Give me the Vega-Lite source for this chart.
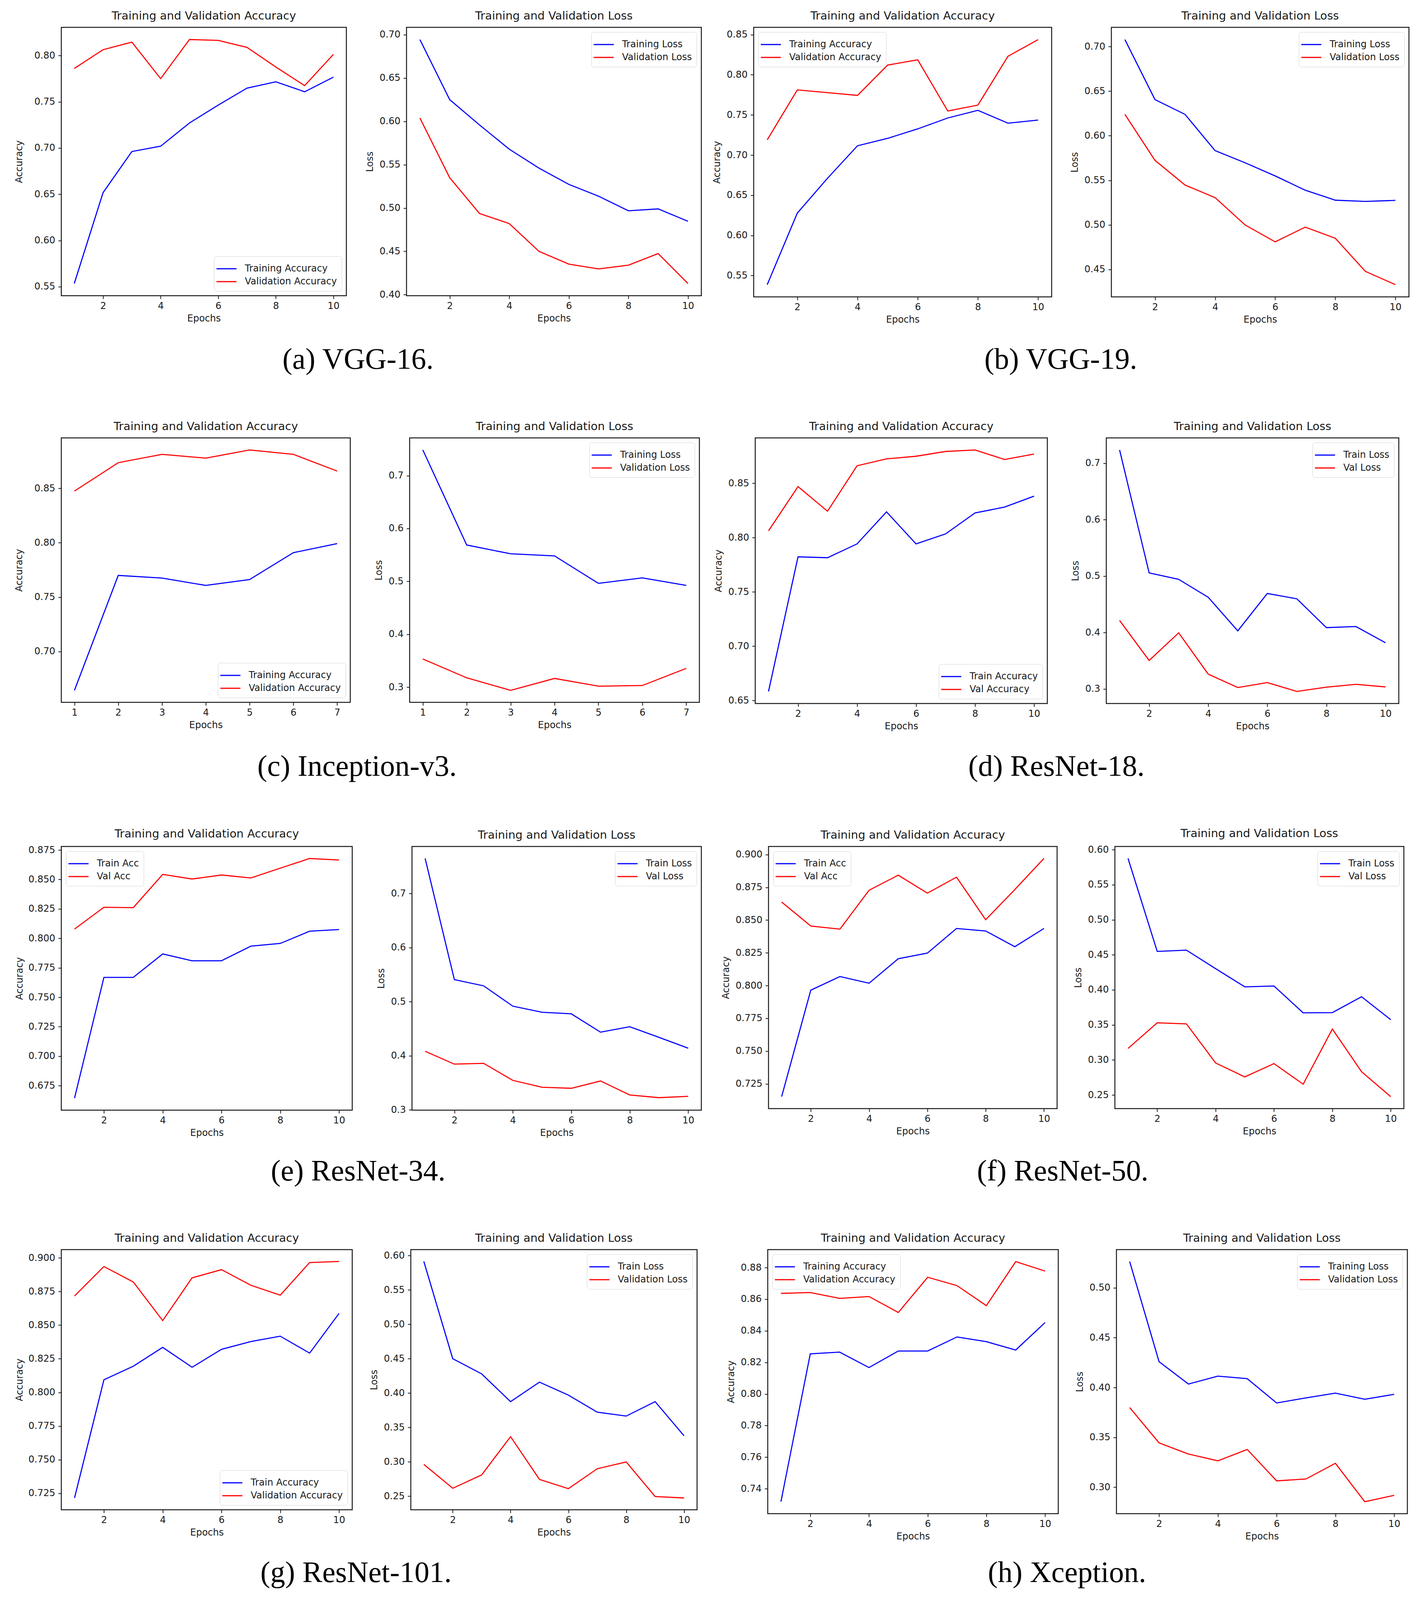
{
"$schema": "https://vega.github.io/schema/vega-lite/v6.json",
"padding": {"left": 36, "top": 25, "right": 0, "bottom": 0},
"background": "white",
"data": {"values": [
{"panel":"a_acc","series":"train","epoch":1,"value":0.5534},{"panel":"a_acc","series":"train","epoch":2,"value":0.6517},{"panel":"a_acc","series":"train","epoch":3,"value":0.6962},{"panel":"a_acc","series":"train","epoch":4,"value":0.7020},{"panel":"a_acc","series":"train","epoch":5,"value":0.7271},{"panel":"a_acc","series":"train","epoch":6,"value":0.7465},{"panel":"a_acc","series":"train","epoch":7,"value":0.7648},{"panel":"a_acc","series":"train","epoch":8,"value":0.7717},{"panel":"a_acc","series":"train","epoch":9,"value":0.7609},{"panel":"a_acc","series":"train","epoch":10,"value":0.7767},
{"panel":"a_acc","series":"val","epoch":1,"value":0.7861},{"panel":"a_acc","series":"val","epoch":2,"value":0.8064},{"panel":"a_acc","series":"val","epoch":3,"value":0.8146},{"panel":"a_acc","series":"val","epoch":4,"value":0.7751},{"panel":"a_acc","series":"val","epoch":5,"value":0.8174},{"panel":"a_acc","series":"val","epoch":6,"value":0.8165},{"panel":"a_acc","series":"val","epoch":7,"value":0.8089},{"panel":"a_acc","series":"val","epoch":8,"value":0.7877},{"panel":"a_acc","series":"val","epoch":9,"value":0.7675},{"panel":"a_acc","series":"val","epoch":10,"value":0.8014},
{"panel":"a_loss","series":"train","epoch":1,"value":0.6944},{"panel":"a_loss","series":"train","epoch":2,"value":0.6251},{"panel":"a_loss","series":"train","epoch":3,"value":0.5959},{"panel":"a_loss","series":"train","epoch":4,"value":0.5679},{"panel":"a_loss","series":"train","epoch":5,"value":0.5460},{"panel":"a_loss","series":"train","epoch":6,"value":0.5273},{"panel":"a_loss","series":"train","epoch":7,"value":0.5136},{"panel":"a_loss","series":"train","epoch":8,"value":0.4968},{"panel":"a_loss","series":"train","epoch":9,"value":0.4990},{"panel":"a_loss","series":"train","epoch":10,"value":0.4847},
{"panel":"a_loss","series":"val","epoch":1,"value":0.6039},{"panel":"a_loss","series":"val","epoch":2,"value":0.5350},{"panel":"a_loss","series":"val","epoch":3,"value":0.4937},{"panel":"a_loss","series":"val","epoch":4,"value":0.4820},{"panel":"a_loss","series":"val","epoch":5,"value":0.4499},{"panel":"a_loss","series":"val","epoch":6,"value":0.4353},{"panel":"a_loss","series":"val","epoch":7,"value":0.4297},{"panel":"a_loss","series":"val","epoch":8,"value":0.4340},{"panel":"a_loss","series":"val","epoch":9,"value":0.4474},{"panel":"a_loss","series":"val","epoch":10,"value":0.4129},
{"panel":"b_acc","series":"train","epoch":1,"value":0.5387},{"panel":"b_acc","series":"train","epoch":2,"value":0.6278},{"panel":"b_acc","series":"train","epoch":3,"value":0.6710},{"panel":"b_acc","series":"train","epoch":4,"value":0.7116},{"panel":"b_acc","series":"train","epoch":5,"value":0.7208},{"panel":"b_acc","series":"train","epoch":6,"value":0.7326},{"panel":"b_acc","series":"train","epoch":7,"value":0.7462},{"panel":"b_acc","series":"train","epoch":8,"value":0.7557},{"panel":"b_acc","series":"train","epoch":9,"value":0.7397},{"panel":"b_acc","series":"train","epoch":10,"value":0.7436},
{"panel":"b_acc","series":"val","epoch":1,"value":0.7190},{"panel":"b_acc","series":"val","epoch":2,"value":0.7811},{"panel":"b_acc","series":"val","epoch":3,"value":0.7777},{"panel":"b_acc","series":"val","epoch":4,"value":0.7743},{"panel":"b_acc","series":"val","epoch":5,"value":0.8120},{"panel":"b_acc","series":"val","epoch":6,"value":0.8186},{"panel":"b_acc","series":"val","epoch":7,"value":0.7549},{"panel":"b_acc","series":"val","epoch":8,"value":0.7622},{"panel":"b_acc","series":"val","epoch":9,"value":0.8230},{"panel":"b_acc","series":"val","epoch":10,"value":0.8437},
{"panel":"b_loss","series":"train","epoch":1,"value":0.7078},{"panel":"b_loss","series":"train","epoch":2,"value":0.6405},{"panel":"b_loss","series":"train","epoch":3,"value":0.6239},{"panel":"b_loss","series":"train","epoch":4,"value":0.5833},{"panel":"b_loss","series":"train","epoch":5,"value":0.5696},{"panel":"b_loss","series":"train","epoch":6,"value":0.5549},{"panel":"b_loss","series":"train","epoch":7,"value":0.5389},{"panel":"b_loss","series":"train","epoch":8,"value":0.5277},{"panel":"b_loss","series":"train","epoch":9,"value":0.5263},{"panel":"b_loss","series":"train","epoch":10,"value":0.5275},
{"panel":"b_loss","series":"val","epoch":1,"value":0.6239},{"panel":"b_loss","series":"val","epoch":2,"value":0.5724},{"panel":"b_loss","series":"val","epoch":3,"value":0.5447},{"panel":"b_loss","series":"val","epoch":4,"value":0.5306},{"panel":"b_loss","series":"val","epoch":5,"value":0.4999},{"panel":"b_loss","series":"val","epoch":6,"value":0.4810},{"panel":"b_loss","series":"val","epoch":7,"value":0.4975},{"panel":"b_loss","series":"val","epoch":8,"value":0.4850},{"panel":"b_loss","series":"val","epoch":9,"value":0.4479},{"panel":"b_loss","series":"val","epoch":10,"value":0.4330},
{"panel":"c_acc","series":"train","epoch":1,"value":0.6643},{"panel":"c_acc","series":"train","epoch":2,"value":0.7700},{"panel":"c_acc","series":"train","epoch":3,"value":0.7675},{"panel":"c_acc","series":"train","epoch":4,"value":0.7608},{"panel":"c_acc","series":"train","epoch":5,"value":0.7662},{"panel":"c_acc","series":"train","epoch":6,"value":0.7909},{"panel":"c_acc","series":"train","epoch":7,"value":0.7992},
{"panel":"c_acc","series":"val","epoch":1,"value":0.8475},{"panel":"c_acc","series":"val","epoch":2,"value":0.8736},{"panel":"c_acc","series":"val","epoch":3,"value":0.8813},{"panel":"c_acc","series":"val","epoch":4,"value":0.8778},{"panel":"c_acc","series":"val","epoch":5,"value":0.8853},{"panel":"c_acc","series":"val","epoch":6,"value":0.8813},{"panel":"c_acc","series":"val","epoch":7,"value":0.8659},
{"panel":"c_loss","series":"train","epoch":1,"value":0.7486},{"panel":"c_loss","series":"train","epoch":2,"value":0.5688},{"panel":"c_loss","series":"train","epoch":3,"value":0.5522},{"panel":"c_loss","series":"train","epoch":4,"value":0.5482},{"panel":"c_loss","series":"train","epoch":5,"value":0.4964},{"panel":"c_loss","series":"train","epoch":6,"value":0.5067},{"panel":"c_loss","series":"train","epoch":7,"value":0.4925},
{"panel":"c_loss","series":"val","epoch":1,"value":0.3534},{"panel":"c_loss","series":"val","epoch":2,"value":0.3178},{"panel":"c_loss","series":"val","epoch":3,"value":0.2941},{"panel":"c_loss","series":"val","epoch":4,"value":0.3166},{"panel":"c_loss","series":"val","epoch":5,"value":0.3020},{"panel":"c_loss","series":"val","epoch":6,"value":0.3032},{"panel":"c_loss","series":"val","epoch":7,"value":0.3356},
{"panel":"d_acc","series":"train","epoch":1,"value":0.6584},{"panel":"d_acc","series":"train","epoch":2,"value":0.7823},{"panel":"d_acc","series":"train","epoch":3,"value":0.7815},{"panel":"d_acc","series":"train","epoch":4,"value":0.7942},{"panel":"d_acc","series":"train","epoch":5,"value":0.8237},{"panel":"d_acc","series":"train","epoch":6,"value":0.7942},{"panel":"d_acc","series":"train","epoch":7,"value":0.8034},{"panel":"d_acc","series":"train","epoch":8,"value":0.8227},{"panel":"d_acc","series":"train","epoch":9,"value":0.8281},{"panel":"d_acc","series":"train","epoch":10,"value":0.8382},
{"panel":"d_acc","series":"val","epoch":1,"value":0.8062},{"panel":"d_acc","series":"val","epoch":2,"value":0.8470},{"panel":"d_acc","series":"val","epoch":3,"value":0.8243},{"panel":"d_acc","series":"val","epoch":4,"value":0.8661},{"panel":"d_acc","series":"val","epoch":5,"value":0.8725},{"panel":"d_acc","series":"val","epoch":6,"value":0.8749},{"panel":"d_acc","series":"val","epoch":7,"value":0.8793},{"panel":"d_acc","series":"val","epoch":8,"value":0.8807},{"panel":"d_acc","series":"val","epoch":9,"value":0.8719},{"panel":"d_acc","series":"val","epoch":10,"value":0.8769},
{"panel":"d_loss","series":"train","epoch":1,"value":0.7234},{"panel":"d_loss","series":"train","epoch":2,"value":0.5057},{"panel":"d_loss","series":"train","epoch":3,"value":0.4943},{"panel":"d_loss","series":"train","epoch":4,"value":0.4625},{"panel":"d_loss","series":"train","epoch":5,"value":0.4031},{"panel":"d_loss","series":"train","epoch":6,"value":0.4693},{"panel":"d_loss","series":"train","epoch":7,"value":0.4598},{"panel":"d_loss","series":"train","epoch":8,"value":0.4088},{"panel":"d_loss","series":"train","epoch":9,"value":0.4107},{"panel":"d_loss","series":"train","epoch":10,"value":0.3820},
{"panel":"d_loss","series":"val","epoch":1,"value":0.4215},{"panel":"d_loss","series":"val","epoch":2,"value":0.3506},{"panel":"d_loss","series":"val","epoch":3,"value":0.3996},{"panel":"d_loss","series":"val","epoch":4,"value":0.3264},{"panel":"d_loss","series":"val","epoch":5,"value":0.3027},{"panel":"d_loss","series":"val","epoch":6,"value":0.3115},{"panel":"d_loss","series":"val","epoch":7,"value":0.2958},{"panel":"d_loss","series":"val","epoch":8,"value":0.3034},{"panel":"d_loss","series":"val","epoch":9,"value":0.3084},{"panel":"d_loss","series":"val","epoch":10,"value":0.3038},
{"panel":"e_acc","series":"train","epoch":1,"value":0.6644},{"panel":"e_acc","series":"train","epoch":2,"value":0.7669},{"panel":"e_acc","series":"train","epoch":3,"value":0.7669},{"panel":"e_acc","series":"train","epoch":4,"value":0.7868},{"panel":"e_acc","series":"train","epoch":5,"value":0.7810},{"panel":"e_acc","series":"train","epoch":6,"value":0.7810},{"panel":"e_acc","series":"train","epoch":7,"value":0.7934},{"panel":"e_acc","series":"train","epoch":8,"value":0.7957},{"panel":"e_acc","series":"train","epoch":9,"value":0.8061},{"panel":"e_acc","series":"train","epoch":10,"value":0.8075},
{"panel":"e_acc","series":"val","epoch":1,"value":0.8079},{"panel":"e_acc","series":"val","epoch":2,"value":0.8264},{"panel":"e_acc","series":"val","epoch":3,"value":0.8261},{"panel":"e_acc","series":"val","epoch":4,"value":0.8543},{"panel":"e_acc","series":"val","epoch":5,"value":0.8504},{"panel":"e_acc","series":"val","epoch":6,"value":0.8538},{"panel":"e_acc","series":"val","epoch":7,"value":0.8513},{"panel":"e_acc","series":"val","epoch":8,"value":0.8596},{"panel":"e_acc","series":"val","epoch":9,"value":0.8678},{"panel":"e_acc","series":"val","epoch":10,"value":0.8665},
{"panel":"e_loss","series":"train","epoch":1,"value":0.7645},{"panel":"e_loss","series":"train","epoch":2,"value":0.5407},{"panel":"e_loss","series":"train","epoch":3,"value":0.5292},{"panel":"e_loss","series":"train","epoch":4,"value":0.4916},{"panel":"e_loss","series":"train","epoch":5,"value":0.4804},{"panel":"e_loss","series":"train","epoch":6,"value":0.4774},{"panel":"e_loss","series":"train","epoch":7,"value":0.4436},{"panel":"e_loss","series":"train","epoch":8,"value":0.4536},{"panel":"e_loss","series":"train","epoch":9,"value":0.4340},{"panel":"e_loss","series":"train","epoch":10,"value":0.4140},
{"panel":"e_loss","series":"val","epoch":1,"value":0.4083},{"panel":"e_loss","series":"val","epoch":2,"value":0.3845},{"panel":"e_loss","series":"val","epoch":3,"value":0.3860},{"panel":"e_loss","series":"val","epoch":4,"value":0.3545},{"panel":"e_loss","series":"val","epoch":5,"value":0.3418},{"panel":"e_loss","series":"val","epoch":6,"value":0.3399},{"panel":"e_loss","series":"val","epoch":7,"value":0.3534},{"panel":"e_loss","series":"val","epoch":8,"value":0.3276},{"panel":"e_loss","series":"val","epoch":9,"value":0.3226},{"panel":"e_loss","series":"val","epoch":10,"value":0.3250},
{"panel":"f_acc","series":"train","epoch":1,"value":0.7152},{"panel":"f_acc","series":"train","epoch":2,"value":0.7965},{"panel":"f_acc","series":"train","epoch":3,"value":0.8069},{"panel":"f_acc","series":"train","epoch":4,"value":0.8018},{"panel":"f_acc","series":"train","epoch":5,"value":0.8205},{"panel":"f_acc","series":"train","epoch":6,"value":0.8248},{"panel":"f_acc","series":"train","epoch":7,"value":0.8436},{"panel":"f_acc","series":"train","epoch":8,"value":0.8417},{"panel":"f_acc","series":"train","epoch":9,"value":0.8297},{"panel":"f_acc","series":"train","epoch":10,"value":0.8436},
{"panel":"f_acc","series":"val","epoch":1,"value":0.8638},{"panel":"f_acc","series":"val","epoch":2,"value":0.8455},{"panel":"f_acc","series":"val","epoch":3,"value":0.8431},{"panel":"f_acc","series":"val","epoch":4,"value":0.8728},{"panel":"f_acc","series":"val","epoch":5,"value":0.8843},{"panel":"f_acc","series":"val","epoch":6,"value":0.8706},{"panel":"f_acc","series":"val","epoch":7,"value":0.8828},{"panel":"f_acc","series":"val","epoch":8,"value":0.8503},{"panel":"f_acc","series":"val","epoch":9,"value":0.8733},{"panel":"f_acc","series":"val","epoch":10,"value":0.8971},
{"panel":"f_loss","series":"train","epoch":1,"value":0.5875},{"panel":"f_loss","series":"train","epoch":2,"value":0.4548},{"panel":"f_loss","series":"train","epoch":3,"value":0.4566},{"panel":"f_loss","series":"train","epoch":4,"value":0.4302},{"panel":"f_loss","series":"train","epoch":5,"value":0.4043},{"panel":"f_loss","series":"train","epoch":6,"value":0.4055},{"panel":"f_loss","series":"train","epoch":7,"value":0.3672},{"panel":"f_loss","series":"train","epoch":8,"value":0.3675},{"panel":"f_loss","series":"train","epoch":9,"value":0.3901},{"panel":"f_loss","series":"train","epoch":10,"value":0.3574},
{"panel":"f_loss","series":"val","epoch":1,"value":0.3164},{"panel":"f_loss","series":"val","epoch":2,"value":0.3530},{"panel":"f_loss","series":"val","epoch":3,"value":0.3515},{"panel":"f_loss","series":"val","epoch":4,"value":0.2957},{"panel":"f_loss","series":"val","epoch":5,"value":0.2758},{"panel":"f_loss","series":"val","epoch":6,"value":0.2948},{"panel":"f_loss","series":"val","epoch":7,"value":0.2654},{"panel":"f_loss","series":"val","epoch":8,"value":0.3441},{"panel":"f_loss","series":"val","epoch":9,"value":0.2832},{"panel":"f_loss","series":"val","epoch":10,"value":0.2476},
{"panel":"g_acc","series":"train","epoch":1,"value":0.7215},{"panel":"g_acc","series":"train","epoch":2,"value":0.8094},{"panel":"g_acc","series":"train","epoch":3,"value":0.8195},{"panel":"g_acc","series":"train","epoch":4,"value":0.8335},{"panel":"g_acc","series":"train","epoch":5,"value":0.8187},{"panel":"g_acc","series":"train","epoch":6,"value":0.8320},{"panel":"g_acc","series":"train","epoch":7,"value":0.8378},{"panel":"g_acc","series":"train","epoch":8,"value":0.8418},{"panel":"g_acc","series":"train","epoch":9,"value":0.8292},{"panel":"g_acc","series":"train","epoch":10,"value":0.8587},
{"panel":"g_acc","series":"val","epoch":1,"value":0.8717},{"panel":"g_acc","series":"val","epoch":2,"value":0.8936},{"panel":"g_acc","series":"val","epoch":3,"value":0.8821},{"panel":"g_acc","series":"val","epoch":4,"value":0.8534},{"panel":"g_acc","series":"val","epoch":5,"value":0.8852},{"panel":"g_acc","series":"val","epoch":6,"value":0.8913},{"panel":"g_acc","series":"val","epoch":7,"value":0.8797},{"panel":"g_acc","series":"val","epoch":8,"value":0.8723},{"panel":"g_acc","series":"val","epoch":9,"value":0.8966},{"panel":"g_acc","series":"val","epoch":10,"value":0.8974},
{"panel":"g_loss","series":"train","epoch":1,"value":0.5916},{"panel":"g_loss","series":"train","epoch":2,"value":0.4501},{"panel":"g_loss","series":"train","epoch":3,"value":0.4280},{"panel":"g_loss","series":"train","epoch":4,"value":0.3876},{"panel":"g_loss","series":"train","epoch":5,"value":0.4160},{"panel":"g_loss","series":"train","epoch":6,"value":0.3971},{"panel":"g_loss","series":"train","epoch":7,"value":0.3723},{"panel":"g_loss","series":"train","epoch":8,"value":0.3666},{"panel":"g_loss","series":"train","epoch":9,"value":0.3876},{"panel":"g_loss","series":"train","epoch":10,"value":0.3379},
{"panel":"g_loss","series":"val","epoch":1,"value":0.2963},{"panel":"g_loss","series":"val","epoch":2,"value":0.2616},{"panel":"g_loss","series":"val","epoch":3,"value":0.2810},{"panel":"g_loss","series":"val","epoch":4,"value":0.3367},{"panel":"g_loss","series":"val","epoch":5,"value":0.2745},{"panel":"g_loss","series":"val","epoch":6,"value":0.2610},{"panel":"g_loss","series":"val","epoch":7,"value":0.2900},{"panel":"g_loss","series":"val","epoch":8,"value":0.2999},{"panel":"g_loss","series":"val","epoch":9,"value":0.2496},{"panel":"g_loss","series":"val","epoch":10,"value":0.2475},
{"panel":"h_acc","series":"train","epoch":1,"value":0.7318},{"panel":"h_acc","series":"train","epoch":2,"value":0.8254},{"panel":"h_acc","series":"train","epoch":3,"value":0.8265},{"panel":"h_acc","series":"train","epoch":4,"value":0.8167},{"panel":"h_acc","series":"train","epoch":5,"value":0.8272},{"panel":"h_acc","series":"train","epoch":6,"value":0.8272},{"panel":"h_acc","series":"train","epoch":7,"value":0.8361},{"panel":"h_acc","series":"train","epoch":8,"value":0.8331},{"panel":"h_acc","series":"train","epoch":9,"value":0.8278},{"panel":"h_acc","series":"train","epoch":10,"value":0.8452},
{"panel":"h_acc","series":"val","epoch":1,"value":0.8637},{"panel":"h_acc","series":"val","epoch":2,"value":0.8642},{"panel":"h_acc","series":"val","epoch":3,"value":0.8605},{"panel":"h_acc","series":"val","epoch":4,"value":0.8617},{"panel":"h_acc","series":"val","epoch":5,"value":0.8516},{"panel":"h_acc","series":"val","epoch":6,"value":0.8739},{"panel":"h_acc","series":"val","epoch":7,"value":0.8686},{"panel":"h_acc","series":"val","epoch":8,"value":0.8559},{"panel":"h_acc","series":"val","epoch":9,"value":0.8838},{"panel":"h_acc","series":"val","epoch":10,"value":0.8778},
{"panel":"h_loss","series":"train","epoch":1,"value":0.5263},{"panel":"h_loss","series":"train","epoch":2,"value":0.4259},{"panel":"h_loss","series":"train","epoch":3,"value":0.4035},{"panel":"h_loss","series":"train","epoch":4,"value":0.4114},{"panel":"h_loss","series":"train","epoch":5,"value":0.4089},{"panel":"h_loss","series":"train","epoch":6,"value":0.3845},{"panel":"h_loss","series":"train","epoch":7,"value":0.3896},{"panel":"h_loss","series":"train","epoch":8,"value":0.3944},{"panel":"h_loss","series":"train","epoch":9,"value":0.3882},{"panel":"h_loss","series":"train","epoch":10,"value":0.3932},
{"panel":"h_loss","series":"val","epoch":1,"value":0.3799},{"panel":"h_loss","series":"val","epoch":2,"value":0.3445},{"panel":"h_loss","series":"val","epoch":3,"value":0.3333},{"panel":"h_loss","series":"val","epoch":4,"value":0.3265},{"panel":"h_loss","series":"val","epoch":5,"value":0.3379},{"panel":"h_loss","series":"val","epoch":6,"value":0.3064},{"panel":"h_loss","series":"val","epoch":7,"value":0.3083},{"panel":"h_loss","series":"val","epoch":8,"value":0.3240},{"panel":"h_loss","series":"val","epoch":9,"value":0.2855},{"panel":"h_loss","series":"val","epoch":10,"value":0.2919}
]},
"config": {
  "font": "DejaVu Sans",
  "view": {"stroke": "#1a1a1a", "strokeWidth": 2.5},
  "axis": {"domain": false, "grid": false, "tickColor": "#1a1a1a", "tickSize": 8, "tickWidth": 2, "labelFont": "DejaVu Sans", "labelFontSize": 24, "labelColor": "#1a1a1a", "titleFont": "DejaVu Sans", "titleFontSize": 24, "titleFontWeight": "normal", "titleColor": "#1a1a1a", "labelFlush": false, "labelOverlap": false},
  "axisX": {"labelPadding": 6, "titlePadding": 8},
  "axisY": {"labelPadding": 8, "titlePadding": 12},
  "title": {"font": "DejaVu Sans", "fontSize": 29, "fontWeight": "normal", "color": "#1a1a1a", "offset": 14, "frame": "group", "anchor": "middle"},
  "legend": {"labelFont": "DejaVu Sans", "labelFontSize": 24, "labelColor": "#1a1a1a", "symbolType": "M-1.4,0H1.4", "symbolStrokeWidth": 3.5, "symbolSize": 1350, "labelOffset": 27, "padding": 12, "rowPadding": 1, "fillColor": "white", "strokeColor": "#d3d3d3", "cornerRadius": 6, "offset": 12, "labelLimit": 600},
  "line": {"strokeWidth": 2.8}
},
"columns": 1,
"spacing": 116,
"resolve": {"scale": {"color": "independent"}, "legend": {"color": "independent"}},
"concat": [
 {"hconcat": [
  {"title": {"text": "(a) VGG-16.", "orient": "bottom", "font": "Liberation Serif", "fontSize": 76, "fontWeight": "normal", "color": "#000000", "offset": 56, "anchor": "middle", "frame": "bounds"},
   "spacing": 45, "resolve": {"scale": {"color": "independent"}, "legend": {"color": "independent"}},
   "hconcat": [
    {"width": 730, "height": 687, "title": "Training and Validation Accuracy", "transform": [{"filter": "datum.panel === 'a_acc'"}], "mark": {"type": "line", "strokeWidth": 2.8},
     "encoding": {"x": {"field": "epoch", "type": "quantitative", "scale": {"domain": [0.55, 10.45], "nice": false, "zero": false}, "axis": {"values": [2,4,6,8,10], "format": "d", "title": "Epochs"}},
      "y": {"field": "value", "type": "quantitative", "scale": {"domain": [0.5402, 0.8306], "nice": false, "zero": false}, "axis": {"values": [0.55,0.60,0.65,0.70,0.75,0.80], "format": ".2f", "title": "Accuracy", "titlePadding": 26}},
      "color": {"field": "series", "type": "nominal", "scale": {"domain": ["train","val"], "range": ["#0000ff","#ff0000"]}, "legend": {"title": null, "orient": "bottom-right", "labelExpr": "datum.label === 'train' ? 'Training Accuracy' : 'Validation Accuracy'"}}}},
    {"width": 755, "height": 687, "title": "Training and Validation Loss", "transform": [{"filter": "datum.panel === 'a_loss'"}], "mark": {"type": "line", "strokeWidth": 2.8},
     "encoding": {"x": {"field": "epoch", "type": "quantitative", "scale": {"domain": [0.55, 10.45], "nice": false, "zero": false}, "axis": {"values": [2,4,6,8,10], "format": "d", "title": "Epochs"}},
      "y": {"field": "value", "type": "quantitative", "scale": {"domain": [0.3988, 0.7085], "nice": false, "zero": false}, "axis": {"values": [0.40,0.45,0.50,0.55,0.60,0.65,0.70], "format": ".2f", "title": "Loss", "titlePadding": 12}},
      "color": {"field": "series", "type": "nominal", "scale": {"domain": ["train","val"], "range": ["#0000ff","#ff0000"]}, "legend": {"title": null, "orient": "top-right", "labelExpr": "datum.label === 'train' ? 'Training Loss' : 'Validation Loss'"}}}}
   ]},
  {"title": {"text": "(b) VGG-19.", "orient": "bottom", "font": "Liberation Serif", "fontSize": 76, "fontWeight": "normal", "color": "#000000", "offset": 53, "anchor": "middle", "frame": "bounds"},
   "spacing": 44, "resolve": {"scale": {"color": "independent"}, "legend": {"color": "independent"}},
   "hconcat": [
    {"width": 763, "height": 690, "title": "Training and Validation Accuracy", "transform": [{"filter": "datum.panel === 'b_acc'"}], "mark": {"type": "line", "strokeWidth": 2.8},
     "encoding": {"x": {"field": "epoch", "type": "quantitative", "scale": {"domain": [0.55, 10.45], "nice": false, "zero": false}, "axis": {"values": [2,4,6,8,10], "format": "d", "title": "Epochs"}},
      "y": {"field": "value", "type": "quantitative", "scale": {"domain": [0.5235, 0.8590], "nice": false, "zero": false}, "axis": {"values": [0.55,0.60,0.65,0.70,0.75,0.80,0.85], "format": ".2f", "title": "Accuracy", "titlePadding": 12}},
      "color": {"field": "series", "type": "nominal", "scale": {"domain": ["train","val"], "range": ["#0000ff","#ff0000"]}, "legend": {"title": null, "orient": "top-left", "labelExpr": "datum.label === 'train' ? 'Training Accuracy' : 'Validation Accuracy'"}}}},
    {"width": 762, "height": 690, "title": "Training and Validation Loss", "transform": [{"filter": "datum.panel === 'b_loss'"}], "mark": {"type": "line", "strokeWidth": 2.8},
     "encoding": {"x": {"field": "epoch", "type": "quantitative", "scale": {"domain": [0.55, 10.45], "nice": false, "zero": false}, "axis": {"values": [2,4,6,8,10], "format": "d", "title": "Epochs"}},
      "y": {"field": "value", "type": "quantitative", "scale": {"domain": [0.4193, 0.7215], "nice": false, "zero": false}, "axis": {"values": [0.45,0.50,0.55,0.60,0.65,0.70], "format": ".2f", "title": "Loss", "titlePadding": 12}},
      "color": {"field": "series", "type": "nominal", "scale": {"domain": ["train","val"], "range": ["#0000ff","#ff0000"]}, "legend": {"title": null, "orient": "top-right", "labelExpr": "datum.label === 'train' ? 'Training Loss' : 'Validation Loss'"}}}}
   ]}
 ], "spacing": 25, "resolve": {"scale": {"color": "independent"}, "legend": {"color": "independent"}}},
 {"hconcat": [
  {"title": {"text": "(c) Inception-v3.", "orient": "bottom", "font": "Liberation Serif", "fontSize": 76, "fontWeight": "normal", "color": "#000000", "offset": 57, "anchor": "middle", "frame": "bounds"},
   "spacing": 58, "resolve": {"scale": {"color": "independent"}, "legend": {"color": "independent"}},
   "hconcat": [
    {"width": 740, "height": 677, "title": "Training and Validation Accuracy", "transform": [{"filter": "datum.panel === 'c_acc'"}], "mark": {"type": "line", "strokeWidth": 2.8},
     "encoding": {"x": {"field": "epoch", "type": "quantitative", "scale": {"domain": [0.7, 7.3], "nice": false, "zero": false}, "axis": {"values": [1,2,3,4,5,6,7], "format": "d", "title": "Epochs"}},
      "y": {"field": "value", "type": "quantitative", "scale": {"domain": [0.6533, 0.8964], "nice": false, "zero": false}, "axis": {"values": [0.70,0.75,0.80,0.85], "format": ".2f", "title": "Accuracy", "titlePadding": 26}},
      "color": {"field": "series", "type": "nominal", "scale": {"domain": ["train","val"], "range": ["#0000ff","#ff0000"]}, "legend": {"title": null, "orient": "bottom-right", "labelExpr": "datum.label === 'train' ? 'Training Accuracy' : 'Validation Accuracy'"}}}},
    {"width": 742, "height": 677, "title": "Training and Validation Loss", "transform": [{"filter": "datum.panel === 'c_loss'"}], "mark": {"type": "line", "strokeWidth": 2.8},
     "encoding": {"x": {"field": "epoch", "type": "quantitative", "scale": {"domain": [0.7, 7.3], "nice": false, "zero": false}, "axis": {"values": [1,2,3,4,5,6,7], "format": "d", "title": "Epochs"}},
      "y": {"field": "value", "type": "quantitative", "scale": {"domain": [0.2714, 0.7713], "nice": false, "zero": false}, "axis": {"values": [0.3,0.4,0.5,0.6,0.7], "format": ".1f", "title": "Loss", "titlePadding": 12}},
      "color": {"field": "series", "type": "nominal", "scale": {"domain": ["train","val"], "range": ["#0000ff","#ff0000"]}, "legend": {"title": null, "orient": "top-right", "labelExpr": "datum.label === 'train' ? 'Training Loss' : 'Validation Loss'"}}}}
   ]},
  {"title": {"text": "(d) ResNet-18.", "orient": "bottom", "font": "Liberation Serif", "fontSize": 76, "fontWeight": "normal", "color": "#000000", "offset": 54, "anchor": "middle", "frame": "bounds"},
   "spacing": 57, "resolve": {"scale": {"color": "independent"}, "legend": {"color": "independent"}},
   "hconcat": [
    {"width": 748, "height": 680, "title": "Training and Validation Accuracy", "transform": [{"filter": "datum.panel === 'd_acc'"}], "mark": {"type": "line", "strokeWidth": 2.8},
     "encoding": {"x": {"field": "epoch", "type": "quantitative", "scale": {"domain": [0.55, 10.45], "nice": false, "zero": false}, "axis": {"values": [2,4,6,8,10], "format": "d", "title": "Epochs"}},
      "y": {"field": "value", "type": "quantitative", "scale": {"domain": [0.6473, 0.8918], "nice": false, "zero": false}, "axis": {"values": [0.65,0.70,0.75,0.80,0.85], "format": ".2f", "title": "Accuracy", "titlePadding": 12}},
      "color": {"field": "series", "type": "nominal", "scale": {"domain": ["train","val"], "range": ["#0000ff","#ff0000"]}, "legend": {"title": null, "orient": "bottom-right", "labelExpr": "datum.label === 'train' ? 'Train Accuracy' : 'Val Accuracy'"}}}},
    {"width": 749, "height": 680, "title": "Training and Validation Loss", "transform": [{"filter": "datum.panel === 'd_loss'"}], "mark": {"type": "line", "strokeWidth": 2.8},
     "encoding": {"x": {"field": "epoch", "type": "quantitative", "scale": {"domain": [0.55, 10.45], "nice": false, "zero": false}, "axis": {"values": [2,4,6,8,10], "format": "d", "title": "Epochs"}},
      "y": {"field": "value", "type": "quantitative", "scale": {"domain": [0.2744, 0.7448], "nice": false, "zero": false}, "axis": {"values": [0.3,0.4,0.5,0.6,0.7], "format": ".1f", "title": "Loss", "titlePadding": 12}},
      "color": {"field": "series", "type": "nominal", "scale": {"domain": ["train","val"], "range": ["#0000ff","#ff0000"]}, "legend": {"title": null, "orient": "top-right", "labelExpr": "datum.label === 'train' ? 'Train Loss' : 'Val Loss'"}}}}
   ]}
 ], "spacing": 34, "resolve": {"scale": {"color": "independent"}, "legend": {"color": "independent"}}},
 {"hconcat": [
  {"title": {"text": "(e) ResNet-34.", "orient": "bottom", "font": "Liberation Serif", "fontSize": 76, "fontWeight": "normal", "color": "#000000", "offset": 49, "anchor": "middle", "frame": "bounds"},
   "spacing": 59, "resolve": {"scale": {"color": "independent"}, "legend": {"color": "independent"}},
   "hconcat": [
    {"width": 745, "height": 675, "title": "Training and Validation Accuracy", "transform": [{"filter": "datum.panel === 'e_acc'"}], "mark": {"type": "line", "strokeWidth": 2.8},
     "encoding": {"x": {"field": "epoch", "type": "quantitative", "scale": {"domain": [0.55, 10.45], "nice": false, "zero": false}, "axis": {"values": [2,4,6,8,10], "format": "d", "title": "Epochs"}},
      "y": {"field": "value", "type": "quantitative", "scale": {"domain": [0.6542, 0.8780], "nice": false, "zero": false}, "axis": {"values": [0.675,0.700,0.725,0.750,0.775,0.800,0.825,0.850,0.875], "format": ".3f", "title": "Accuracy", "titlePadding": 10}},
      "color": {"field": "series", "type": "nominal", "scale": {"domain": ["train","val"], "range": ["#0000ff","#ff0000"]}, "legend": {"title": null, "orient": "top-left", "labelExpr": "datum.label === 'train' ? 'Train Acc' : 'Val Acc'"}}}},
    {"width": 741, "height": 675, "title": "Training and Validation Loss", "transform": [{"filter": "datum.panel === 'e_loss'"}], "mark": {"type": "line", "strokeWidth": 2.8},
     "encoding": {"x": {"field": "epoch", "type": "quantitative", "scale": {"domain": [0.55, 10.45], "nice": false, "zero": false}, "axis": {"values": [2,4,6,8,10], "format": "d", "title": "Epochs"}},
      "y": {"field": "value", "type": "quantitative", "scale": {"domain": [0.2995, 0.7866], "nice": false, "zero": false}, "axis": {"values": [0.3,0.4,0.5,0.6,0.7], "format": ".1f", "title": "Loss", "titlePadding": 12}},
      "color": {"field": "series", "type": "nominal", "scale": {"domain": ["train","val"], "range": ["#0000ff","#ff0000"]}, "legend": {"title": null, "orient": "top-right", "labelExpr": "datum.label === 'train' ? 'Train Loss' : 'Val Loss'"}}}}
   ]},
  {"title": {"text": "(f) ResNet-50.", "orient": "bottom", "font": "Liberation Serif", "fontSize": 76, "fontWeight": "normal", "color": "#000000", "offset": 53, "anchor": "middle", "frame": "bounds"},
   "spacing": 39, "resolve": {"scale": {"color": "independent"}, "legend": {"color": "independent"}},
   "hconcat": [
    {"width": 739, "height": 671, "title": "Training and Validation Accuracy", "transform": [{"filter": "datum.panel === 'f_acc'"}], "mark": {"type": "line", "strokeWidth": 2.8},
     "encoding": {"x": {"field": "epoch", "type": "quantitative", "scale": {"domain": [0.55, 10.45], "nice": false, "zero": false}, "axis": {"values": [2,4,6,8,10], "format": "d", "title": "Epochs"}},
      "y": {"field": "value", "type": "quantitative", "scale": {"domain": [0.7061, 0.9062], "nice": false, "zero": false}, "axis": {"values": [0.725,0.750,0.775,0.800,0.825,0.850,0.875,0.900], "format": ".3f", "title": "Accuracy", "titlePadding": 12}},
      "color": {"field": "series", "type": "nominal", "scale": {"domain": ["train","val"], "range": ["#0000ff","#ff0000"]}, "legend": {"title": null, "orient": "top-left", "labelExpr": "datum.label === 'train' ? 'Train Acc' : 'Val Acc'"}}}},
    {"width": 740, "height": 671, "title": "Training and Validation Loss", "transform": [{"filter": "datum.panel === 'f_loss'"}], "mark": {"type": "line", "strokeWidth": 2.8},
     "encoding": {"x": {"field": "epoch", "type": "quantitative", "scale": {"domain": [0.55, 10.45], "nice": false, "zero": false}, "axis": {"values": [2,4,6,8,10], "format": "d", "title": "Epochs"}},
      "y": {"field": "value", "type": "quantitative", "scale": {"domain": [0.2306, 0.6045], "nice": false, "zero": false}, "axis": {"values": [0.25,0.30,0.35,0.40,0.45,0.50,0.55,0.60], "format": ".2f", "title": "Loss", "titlePadding": 12}},
      "color": {"field": "series", "type": "nominal", "scale": {"domain": ["train","val"], "range": ["#0000ff","#ff0000"]}, "legend": {"title": null, "orient": "top-right", "labelExpr": "datum.label === 'train' ? 'Train Loss' : 'Val Loss'"}}}}
   ]}
 ], "spacing": 48, "resolve": {"scale": {"color": "independent"}, "legend": {"color": "independent"}}},
 {"hconcat": [
  {"title": {"text": "(g) ResNet-101.", "orient": "bottom", "font": "Liberation Serif", "fontSize": 76, "fontWeight": "normal", "color": "#000000", "offset": 54, "anchor": "middle", "frame": "bounds"},
   "spacing": 41, "resolve": {"scale": {"color": "independent"}, "legend": {"color": "independent"}},
   "hconcat": [
    {"width": 745, "height": 666, "title": "Training and Validation Accuracy", "transform": [{"filter": "datum.panel === 'g_acc'"}], "mark": {"type": "line", "strokeWidth": 2.8},
     "encoding": {"x": {"field": "epoch", "type": "quantitative", "scale": {"domain": [0.55, 10.45], "nice": false, "zero": false}, "axis": {"values": [2,4,6,8,10], "format": "d", "title": "Epochs"}},
      "y": {"field": "value", "type": "quantitative", "scale": {"domain": [0.7127, 0.9062], "nice": false, "zero": false}, "axis": {"values": [0.725,0.750,0.775,0.800,0.825,0.850,0.875,0.900], "format": ".3f", "title": "Accuracy", "titlePadding": 10}},
      "color": {"field": "series", "type": "nominal", "scale": {"domain": ["train","val"], "range": ["#0000ff","#ff0000"]}, "legend": {"title": null, "orient": "bottom-right", "labelExpr": "datum.label === 'train' ? 'Train Accuracy' : 'Validation Accuracy'"}}}},
    {"width": 733, "height": 666, "title": "Training and Validation Loss", "transform": [{"filter": "datum.panel === 'g_loss'"}], "mark": {"type": "line", "strokeWidth": 2.8},
     "encoding": {"x": {"field": "epoch", "type": "quantitative", "scale": {"domain": [0.55, 10.45], "nice": false, "zero": false}, "axis": {"values": [2,4,6,8,10], "format": "d", "title": "Epochs"}},
      "y": {"field": "value", "type": "quantitative", "scale": {"domain": [0.2303, 0.6088], "nice": false, "zero": false}, "axis": {"values": [0.25,0.30,0.35,0.40,0.45,0.50,0.55,0.60], "format": ".2f", "title": "Loss", "titlePadding": 12}},
      "color": {"field": "series", "type": "nominal", "scale": {"domain": ["train","val"], "range": ["#0000ff","#ff0000"]}, "legend": {"title": null, "orient": "top-right", "labelExpr": "datum.label === 'train' ? 'Train Loss' : 'Validation Loss'"}}}}
   ]},
  {"title": {"text": "(h) Xception.", "orient": "bottom", "font": "Liberation Serif", "fontSize": 76, "fontWeight": "normal", "color": "#000000", "offset": 44, "anchor": "middle", "frame": "bounds"},
   "spacing": 40, "resolve": {"scale": {"color": "independent"}, "legend": {"color": "independent"}},
   "hconcat": [
    {"width": 744, "height": 676, "title": "Training and Validation Accuracy", "transform": [{"filter": "datum.panel === 'h_acc'"}], "mark": {"type": "line", "strokeWidth": 2.8},
     "encoding": {"x": {"field": "epoch", "type": "quantitative", "scale": {"domain": [0.55, 10.45], "nice": false, "zero": false}, "axis": {"values": [2,4,6,8,10], "format": "d", "title": "Epochs"}},
      "y": {"field": "value", "type": "quantitative", "scale": {"domain": [0.7242, 0.8914], "nice": false, "zero": false}, "axis": {"values": [0.74,0.76,0.78,0.80,0.82,0.84,0.86,0.88], "format": ".2f", "title": "Accuracy", "titlePadding": 12}},
      "color": {"field": "series", "type": "nominal", "scale": {"domain": ["train","val"], "range": ["#0000ff","#ff0000"]}, "legend": {"title": null, "orient": "top-left", "labelExpr": "datum.label === 'train' ? 'Training Accuracy' : 'Validation Accuracy'"}}}},
    {"width": 745, "height": 676, "title": "Training and Validation Loss", "transform": [{"filter": "datum.panel === 'h_loss'"}], "mark": {"type": "line", "strokeWidth": 2.8},
     "encoding": {"x": {"field": "epoch", "type": "quantitative", "scale": {"domain": [0.55, 10.45], "nice": false, "zero": false}, "axis": {"values": [2,4,6,8,10], "format": "d", "title": "Epochs"}},
      "y": {"field": "value", "type": "quantitative", "scale": {"domain": [0.2735, 0.5383], "nice": false, "zero": false}, "axis": {"values": [0.30,0.35,0.40,0.45,0.50], "format": ".2f", "title": "Loss", "titlePadding": 12}},
      "color": {"field": "series", "type": "nominal", "scale": {"domain": ["train","val"], "range": ["#0000ff","#ff0000"]}, "legend": {"title": null, "orient": "top-right", "labelExpr": "datum.label === 'train' ? 'Training Loss' : 'Validation Loss'"}}}}
   ]}
 ], "spacing": 72, "resolve": {"scale": {"color": "independent"}, "legend": {"color": "independent"}}}
]
}
